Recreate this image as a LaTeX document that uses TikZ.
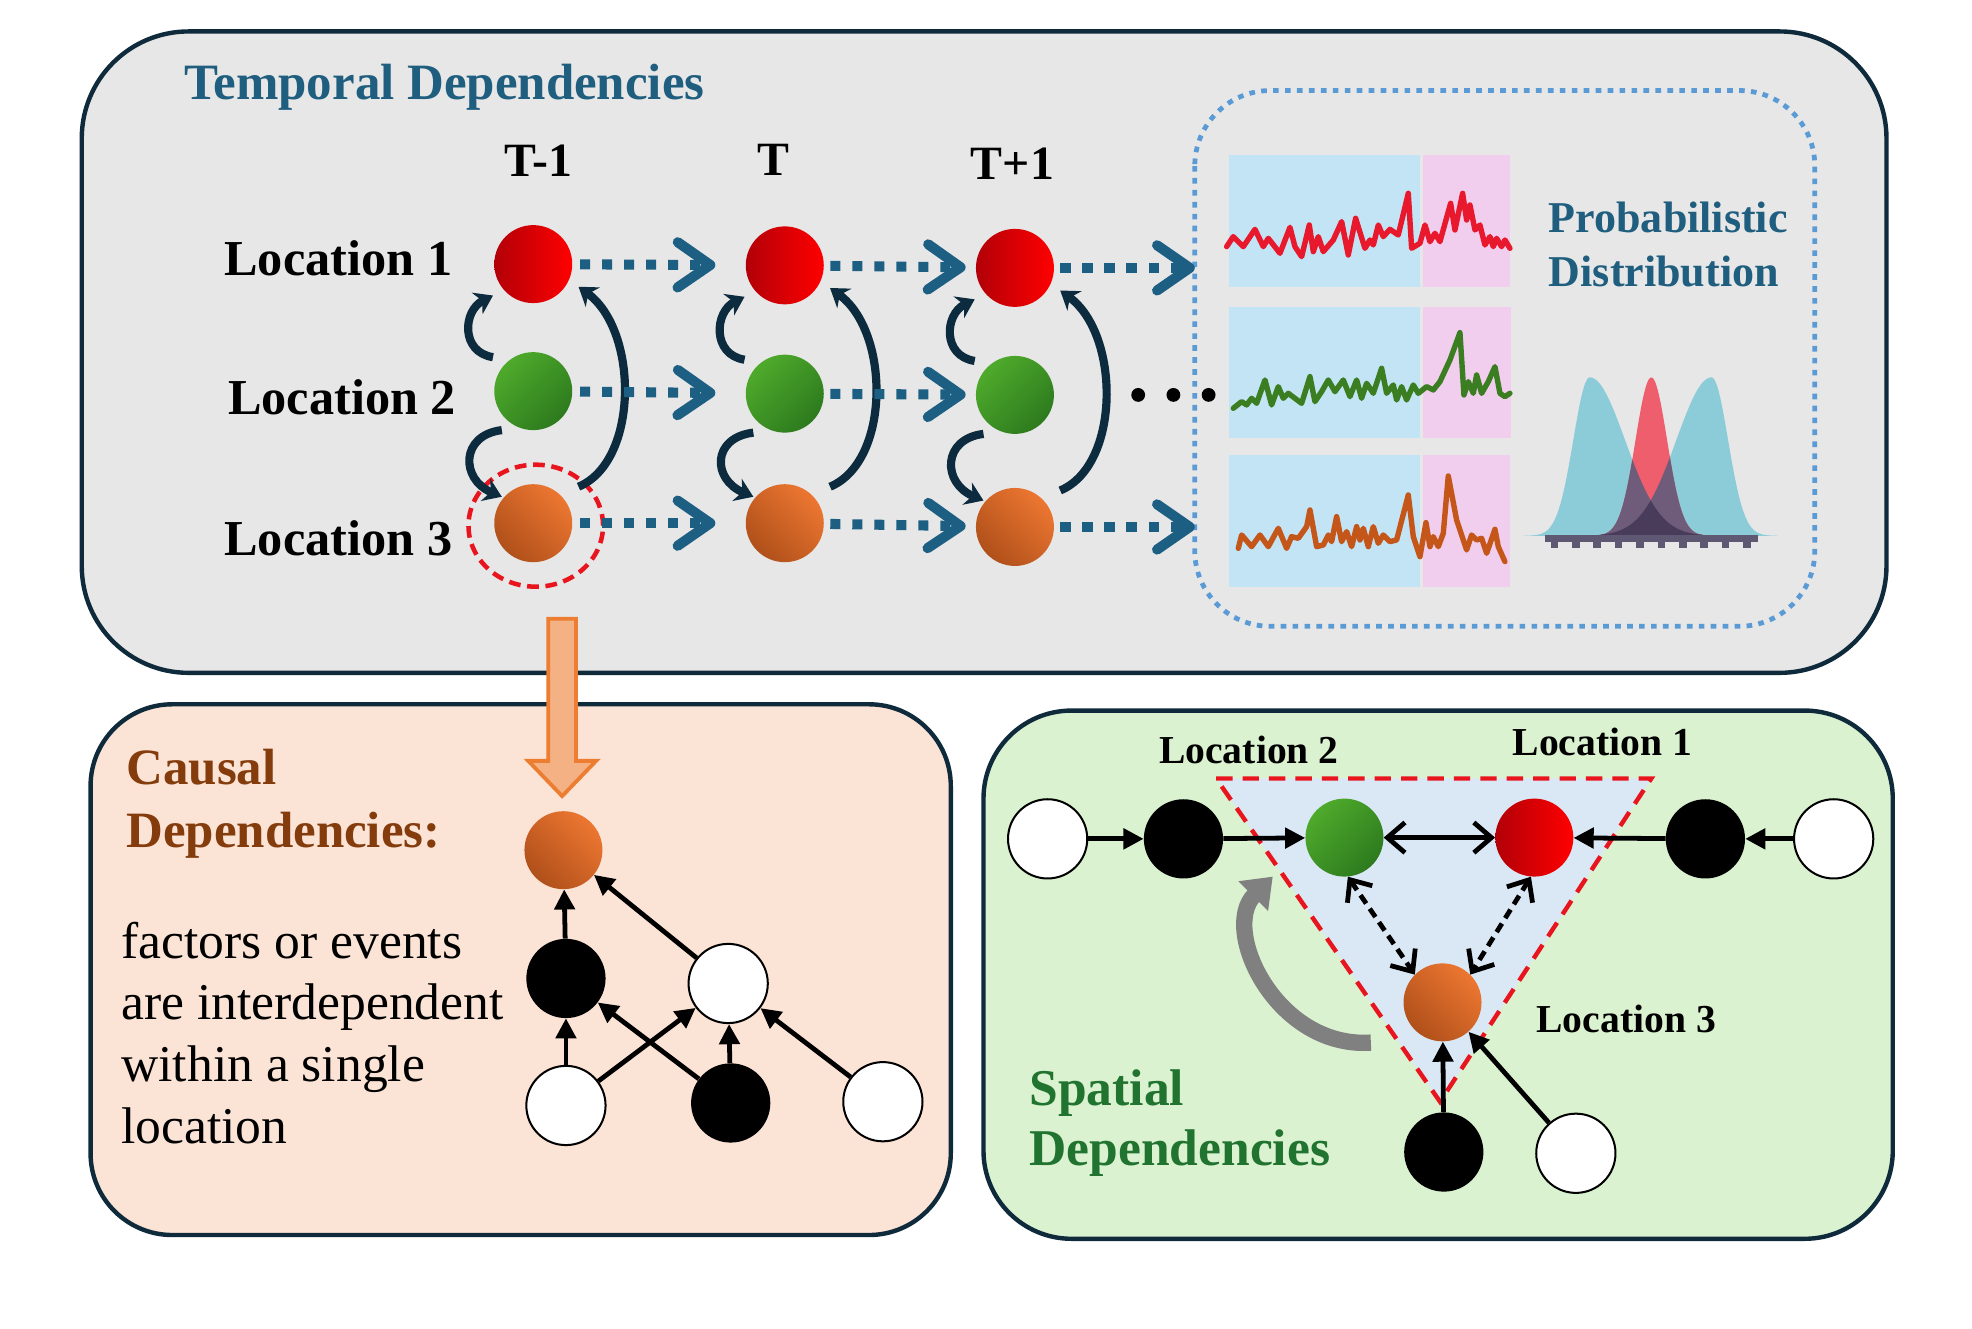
\documentclass[tikz,border=0pt]{standalone}
\usepackage{fontspec}
\setmainfont{Liberation Serif}
\usetikzlibrary{arrows.meta,calc,shapes.geometric}

\definecolor{framec}{HTML}{0E2A3B}
\definecolor{graybg}{HTML}{E7E7E7}
\definecolor{peachbg}{HTML}{FBE3D6}
\definecolor{greenbg}{HTML}{DAF2D0}
\definecolor{titleblue}{HTML}{1F5E7E}
\definecolor{dotblue}{HTML}{1D5F83}
\definecolor{boxblue}{HTML}{5B9BD5}
\definecolor{curvnavy}{HTML}{0C2B3E}
\definecolor{causalbrown}{HTML}{843C0C}
\definecolor{spatialgreen}{HTML}{217330}
\definecolor{chartblue}{HTML}{C3E4F4}
\definecolor{chartpink}{HTML}{F2CEEE}
\definecolor{sred}{HTML}{E8192C}
\definecolor{sgreen}{HTML}{3B7E22}
\definecolor{sorange}{HTML}{C5561A}
\definecolor{tealA}{HTML}{8CCCD8}
\definecolor{tealB}{HTML}{4A9EBE}
\definecolor{gred}{HTML}{EE5E6C}
\definecolor{gpurple}{HTML}{6E5C7A}
\definecolor{gdark}{HTML}{483C5A}
\definecolor{gbar}{HTML}{5E5872}
\definecolor{trifill}{HTML}{DAE8F6}
\definecolor{dashred}{HTML}{E8151E}
\definecolor{arrfill}{HTML}{F4B183}
\definecolor{arrdraw}{HTML}{ED7D31}
\definecolor{grayarc}{HTML}{808080}

\def\gL{(1212,426) -- plot[domain=1212:1264,samples=30] (\x,{426-126*exp(-0.5*((\x-1264)/13)^2)}) -- plot[domain=1264:1380,samples=60] (\x,{426-126*exp(-0.5*((\x-1264)/28)^2)}) -- (1380,426) -- cycle}
\def\gR{(1245,426) -- plot[domain=1245:1361,samples=60] (\x,{426-126*exp(-0.5*((\x-1361)/28)^2)}) -- plot[domain=1361:1413,samples=30] (\x,{426-126*exp(-0.5*((\x-1361)/13)^2)}) -- (1413,426) -- cycle}
\def\gM{(1263,426) -- plot[domain=1263:1363,samples=70] (\x,{426-126*exp(-0.5*((\x-1313)/12.5)^2)}) -- (1363,426) -- cycle}

\begin{document}
\begin{tikzpicture}[x=1pt,y=-1pt,
  panel/.style={line width=3.5pt, draw=framec},
  ball/.style={circle, minimum size=62pt, inner sep=0pt},
  redball/.style={ball, top color=red!100, bottom color={rgb,255:red,178;green,0;blue,8}, shading angle=-90},
  greenball/.style={ball, top color={rgb,255:red,78;green,170;blue,43}, bottom color={rgb,255:red,45;green,122;blue,30}, shading angle=45},
  orangeball/.style={ball, top color={rgb,255:red,236;green,118;blue,49}, bottom color={rgb,255:red,176;green,80;blue,26}, shading angle=-45},
  whiten/.style={circle, minimum size=63pt, inner sep=0pt, draw=black, line width=1.6pt, fill=white},
  blackn/.style={circle, minimum size=63pt, inner sep=0pt, fill=black},
  dotarr/.style={draw=dotblue, line width=8pt, dash pattern=on 8pt off 9.5pt,
     -{Straight Barb[length=26pt,width=36pt,round]}},
  curv/.style={draw=curvnavy, line width=6.5pt, -{Stealth[length=14pt,width=19pt]}},
  blk/.style={draw=black, line width=3.8pt, -{Triangle[length=16pt,width=16pt]}},
  openarr/.style={draw=black, line width=3.8pt, {Straight Barb[length=14pt,width=24pt]}-{Straight Barb[length=14pt,width=24pt]}},
  dasharr/.style={openarr, dash pattern=on 8pt off 5pt},
  lbl/.style={font=\fontsize{40}{48}\selectfont\bfseries},
  slbl/.style={font=\fontsize{31.5}{38}\selectfont\bfseries},
]
\useasboundingbox (0,0) rectangle (1568,1056);
\fill[white] (0,0) rectangle (1568,1056);

% ---------- panels ----------
\draw[panel, fill=graybg, rounded corners=85pt] (65,25) rectangle (1500,535);
\draw[panel, fill=peachbg, rounded corners=65pt] (72,560) rectangle (756,982);
\draw[panel, fill=greenbg, rounded corners=70pt] (782,565) rectangle (1505,985);

% ---------- top panel ----------
\node[anchor=base west, text=titleblue, font=\fontsize{40.5}{48}\selectfont\bfseries] (ttl) at (143,79) {Temporal Dependencies};

\node[font=\fontsize{38}{46}\selectfont\bfseries] (t1) at (428,128) {T-1};
\node[font=\fontsize{38}{46}\selectfont\bfseries] (t2) at (615,127) {T};
\node[font=\fontsize{38}{46}\selectfont\bfseries] (t3) at (805,130) {T+1};

\node[lbl] (loc1) at (269,205) {Location 1};
\node[lbl] (loc2) at (272,316) {Location 2};
\node[lbl] (loc3) at (269,428) {Location 3};

% dotted probabilistic box
\draw[boxblue, line width=3.8pt, dash pattern=on 4.5pt off 5pt, rounded corners=60pt] (950,72) rectangle (1443,498);
\coordinate (boxL) at (950,300);

% charts
\fill[chartblue] (977,123) rectangle (1129,228);
\fill[chartpink] (1131.5,123) rectangle (1200.5,228);
\fill[chartblue] (977,243.8) rectangle (1129,348.5);
\fill[chartpink] (1131.5,243.8) rectangle (1201.5,348.5);
\fill[chartblue] (977,361.8) rectangle (1129,466.5);
\fill[chartpink] (1131.5,361.8) rectangle (1200.5,466.5);

\begin{scope}[shift={(962.07,111.31)}, x=0.26503pt, y=-0.26503pt, line width=4.3pt, line join=round, line cap=round]
\draw[sred] (50,320) -- (70,290) -- (100,320) -- (135,268) -- (160,320) -- (175,295) -- (210,340) -- (240,262) -- (255,320) -- (275,350) -- (298,255) -- (310,335) -- (325,290) -- (340,335) -- (370,300) -- (395,245) -- (415,345) -- (437,235) -- (465,325) -- (480,300) -- (490,315) -- (505,255) -- (520,290) -- (540,268) -- (565,285) -- (595,160) -- (605,325) -- (630,310) -- (645,255) -- (660,305) -- (675,280) -- (690,305) -- (722,190) -- (735,270) -- (758,160) -- (770,240) -- (780,195) -- (795,270) -- (810,255) -- (825,315) -- (840,290) -- (850,320) -- (860,295) -- (875,320) -- (885,300) -- (900,325);
\draw[sgreen] (70,805) -- (95,785) -- (110,795) -- (125,775) -- (140,790) -- (165,720) -- (185,795) -- (205,740) -- (220,775) -- (235,760) -- (275,790) -- (300,710) -- (315,785) -- (335,755) -- (355,720) -- (375,755) -- (400,720) -- (420,770) -- (440,720) -- (455,775) -- (470,730) -- (490,760) -- (515,685) -- (530,760) -- (550,735) -- (560,780) -- (575,740) -- (590,780) -- (610,735) -- (625,760) -- (650,740) -- (670,750) -- (690,725) -- (720,660) -- (750,578) -- (762,765) -- (775,725) -- (790,760) -- (800,705) -- (815,760) -- (835,725) -- (855,680) -- (870,760) -- (885,770) -- (900,760);
\end{scope}
\begin{scope}[shift={(962.07,349.84)}, x=0.26503pt, y=-0.26503pt, line width=4.3pt, line join=round, line cap=round]
\draw[sorange] (85,325) -- (95,285) -- (125,320) -- (150,285) -- (175,320) -- (205,265) -- (230,325) -- (245,290) -- (265,295) -- (290,260) -- (300,210) -- (320,320) -- (340,315) -- (355,285) -- (365,305) -- (380,230) -- (395,305) -- (410,275) -- (425,320) -- (440,260) -- (450,300) -- (460,265) -- (475,320) -- (490,260) -- (505,310) -- (520,285) -- (540,305) -- (560,300) -- (595,165) -- (610,290) -- (630,350) -- (648,248) -- (660,320) -- (670,290) -- (685,320) -- (700,280) -- (715,108) -- (740,240) -- (770,330) -- (785,285) -- (800,300) -- (815,295) -- (830,340) -- (855,268) -- (865,320) -- (885,365);
\end{scope}

\node[anchor=base west, text=titleblue, font=\fontsize{35}{42}\selectfont\bfseries] (prob1) at (1228,185) {Probabilistic};
\node[anchor=base west, text=titleblue, font=\fontsize{35}{42}\selectfont\bfseries] (prob2) at (1228,228) {Distribution};

% gaussians
\fill[tealA] \gL;
\fill[tealA] \gR;
\begin{scope}\clip \gL; \fill[tealB] \gR;\end{scope}
\fill[gred] \gM;
\begin{scope}\clip \gM; \fill[gpurple] \gL; \fill[gpurple] \gR;\end{scope}
\begin{scope}\clip \gM; \clip \gL; \fill[gdark] \gR;\end{scope}
\fill[gbar] (1228.5,425.5) rectangle (1398,431);
\foreach \k in {0,...,9} \fill[gbar] ({1233+17*\k},431) rectangle ({1239+17*\k},435.5);

% balls
\foreach \c/\xx/\yr/\yg/\yo in {1/424/210/311/416, 2/624/211/313/416, 3/807/213/314/419} {
  \node[redball] (R\c) at (\xx,\yr) {};
  \node[greenball] (G\c) at (\xx,\yg) {};
  \node[orangeball] (O\c) at (\xx,\yo) {};
}
\node[draw=dashred, line width=3.6pt, dash pattern=on 9.3pt off 5.3pt, ellipse, minimum width=107pt, minimum height=97pt, inner sep=0pt] (focus) at (426,418) {};

% curved arrows
\foreach \c in {1,2,3} {
  \draw[curv] ($(G\c)+(-32,-27)$) .. controls +(-26,-4) and +(-24,12) .. ($(R\c)+(-32,25)$);
  \draw[curv] ($(G\c)+(-25,31)$) .. controls +(-33,4) and +(-33,-14) .. ($(O\c)+(-25,-21)$);
  \draw[curv] ($(O\c)+(36,-29)$) .. controls +(48,-20) and +(48,35) .. ($(R\c)+(36,18)$);
}

% dotted arrows
\draw[dotarr, shorten <=6pt, shorten >=24pt] (R1) -- (R2);
\draw[dotarr, shorten <=6pt, shorten >=24pt] (G1) -- (G2);
\draw[dotarr, shorten <=6pt, shorten >=24pt] (O1) -- (O2);
\draw[dotarr, shorten <=5pt, shorten >=8pt] (R2) -- (R3);
\draw[dotarr, shorten <=5pt, shorten >=8pt] (G2) -- (G3);
\draw[dotarr, shorten <=5pt, shorten >=8pt] (O2) -- (O3);
\draw[dotarr, shorten <=5pt] (R3) -- (R3 -| boxL);
\draw[dotarr, shorten <=5pt] (O3) -- (O3 -| boxL);
\foreach \xx in {905,933,961} \fill (\xx,314) circle (5.5pt);

% big hollow arrow
\draw[draw=arrdraw, fill=arrfill, line width=3pt, line join=miter]
  (436,492) -- (458,492) -- (458,605) -- (474,605) -- (447,633) -- (420,605) -- (436,605) -- cycle;

% ---------- causal panel ----------
\node[anchor=base west, text=causalbrown, font=\fontsize{40.5}{48}\selectfont\bfseries] (cz1) at (97,624) {Causal};
\node[anchor=base west, text=causalbrown, font=\fontsize{40.5}{48}\selectfont\bfseries] (cz2) at (97,674) {Dependencies:};
\node[anchor=base west, font=\fontsize{41}{49}\selectfont] (b1) at (93,762) {factors or events};
\node[anchor=base west, font=\fontsize{41}{49}\selectfont] (b2) at (93,811) {are interdependent};
\node[anchor=base west, font=\fontsize{41}{49}\selectfont] (b3) at (93,860) {within a single};
\node[anchor=base west, font=\fontsize{41}{49}\selectfont] (b4) at (93,909) {location};

\node[orangeball] (CO) at (448,676) {};
\node[blackn] (CB1) at (450,778) {};
\node[whiten] (CW1) at (579,782) {};
\node[whiten] (CW2) at (450,879) {};
\node[blackn] (CB2) at (581,877) {};
\node[whiten] (CW3) at (702,876) {};
\draw[blk] (CB1) -- (CO);
\draw[blk] (CW1) -- (CO);
\draw[blk] (CW2) -- (CB1);
\draw[blk] (CW2) -- (CW1);
\draw[blk] (CB2) -- (CB1);
\draw[blk] (CB2) -- (CW1);
\draw[blk] (CW3) -- (CW1);

% ---------- spatial panel ----------
\draw[fill=trifill, draw=dashred, line width=3.5pt, dash pattern=on 13pt off 8pt] (967,619) -- (1313,619) -- (1145,876) -- cycle;

\node[slbl] (sl2) at (993,596) {Location 2};
\node[slbl] (sl1) at (1274,590) {Location 1};
\node[slbl] (sl3) at (1293,810) {Location 3};

\node[anchor=base west, text=spatialgreen, font=\fontsize{41}{49}\selectfont\bfseries] (sp1) at (815,879) {Spatial};
\node[anchor=base west, text=spatialgreen, font=\fontsize{41}{49}\selectfont\bfseries] (sp2) at (815,927) {Dependencies};

\node[whiten] (SW1) at (833,667) {};
\node[blackn] (SB1) at (941,667) {};
\node[greenball] (SG) at (1069,666) {};
\node[redball] (SR) at (1220,666) {};
\node[blackn] (SB2) at (1356,667) {};
\node[whiten] (SW2) at (1458,667) {};
\node[orangeball] (SO) at (1147,797) {};
\node[blackn] (SB3) at (1148,916) {};
\node[whiten] (SW3) at (1253,917) {};

\draw[blk] (SW1) -- (SB1);
\draw[blk] (SB1) -- (SG);
\draw[blk] (SW2) -- (SB2);
\draw[blk] (SB2) -- (SR);
\draw[blk] (SB3) -- (SO);
\draw[blk] (SW3) -- (SO);
\draw[openarr] (SG) -- (SR);
\draw[dasharr] (SG.-85) -- (SO.135);
\draw[dasharr] (SR.-95) -- (SO.45);

\coordinate (gtip) at (1012,697);
\draw[grayarc, line width=13pt, -{Triangle[length=22pt,width=32pt]}] ($(SO)+(-57,32)$) .. controls +(-75,5) and +(-42,42) .. (gtip);
\end{tikzpicture}
\end{document}
